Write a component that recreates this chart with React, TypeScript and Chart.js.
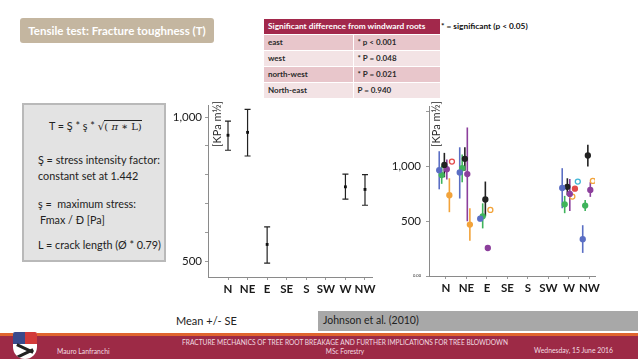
import React, { useEffect, useRef } from "react";
import { Chart, registerables } from "chart.js";
Chart.register(...registerables);

// ---------- data ----------
const categories = ["N", "NE", "E", "SE", "S", "SW", "W", "NW"];

// left chart: mean +/- SE
const leftMean = [937, 947, 558, null, null, null, 758, 749];
const leftLow = [885, 865, 493, null, null, null, 715, 694];
const leftHigh = [986, 1027, 619, null, null, null, 802, 800];
const leftYTicks = [500, 600, 700, 800, 900, 1000];

// right chart (Johnson et al. 2010)
const rightYTicks = [0, 500, 1000, 1500];
const blueMean = [967, 946, 524, null, null, null, 804, 336];
const blueLow = [792, 708, 506, null, null, null, 619, 211];
const blueHigh = [1140, 1176, 545, null, null, null, 985, 464];
const greenMean = [922, 985, 545, null, null, null, 655, 643];
const greenLow = [842, 857, 435, null, null, null, 574, 595];
const greenHigh = [1006, 1110, 664, null, null, null, 732, 694];
const blackMean = [1015, 1071, 699, null, null, null, 815, 1101];
const blackLow = [902, 961, 545, null, null, null, 738, 1000];
const blackHigh = [1125, 1176, 863, null, null, null, 893, 1199];
const purpleMean = [976, 931, 256, null, null, null, 750, 786];
const purpleLow = [881, 500, 244, null, null, null, 595, 723];
const purpleHigh = [1065, 1357, 268, null, null, null, 887, 857];
const orangeMean = [738, 470, 604, null, null, null, 726, 869];
const orangeLow = [583, 321, null, null, null, null, null, null];
const orangeHigh = [893, 619, null, null, null, null, null, null];
const orangeHollow = [false, false, true, false, false, false, true, true];
const redMean = [1045, null, null, null, null, null, 798, null];
const redLow = [null, null, null, null, null, null, 780, null];
const redHigh = [null, null, null, null, null, null, 816, null];
const redHollow = [true, false, false, false, false, false, false, false];
const cyanMean = [null, null, null, null, null, null, 863, null];
const cyanHollow = [false, false, false, false, false, false, true, false];

// text content
const sigRows = ["east", "west", "north-west", "North-east"];
const sigValues = ["* p < 0.001", "* P = 0.048", "* P = 0.021", "P = 0.940"];

// ---------- helpers ----------
const FONT = "Lato, 'Open Sans', sans-serif";

function buildSeries(mean: any[], low: any[] | null, high: any[] | null, offset: number, hollow: boolean[] | null, color: string) {
  const pts: any[] = [];
  const lo: any[] = [];
  const hi: any[] = [];
  const bg: string[] = [];
  mean.forEach((m, i) => {
    if (m == null) return;
    pts.push({ x: i + offset, y: m });
    lo.push(low ? low[i] : null);
    hi.push(high ? high[i] : null);
    bg.push(hollow && hollow[i] ? "#ffffff" : color);
  });
  return { pts, lo, hi, bg };
}

const errorBarPlugin = {
  id: "errbars",
  beforeDatasetsDraw(chart: any) {
    const { ctx } = chart;
    const x = chart.scales.x;
    const y = chart.scales.y;
    chart.data.datasets.forEach((ds: any) => {
      if (!ds.errLow) return;
      ctx.save();
      ctx.strokeStyle = ds.errColor;
      ctx.lineWidth = ds.errWidth;
      ds.data.forEach((pt: any, i: number) => {
        const lo = ds.errLow[i];
        const hi = ds.errHigh[i];
        if (lo == null || hi == null) return;
        const px = x.getPixelForValue(pt.x);
        const yl = y.getPixelForValue(lo);
        const yh = y.getPixelForValue(hi);
        ctx.beginPath();
        ctx.moveTo(px, yl);
        ctx.lineTo(px, yh);
        if (ds.capHalf) {
          ctx.moveTo(px - ds.capHalf, yl);
          ctx.lineTo(px + ds.capHalf, yl);
          ctx.moveTo(px - ds.capHalf, yh);
          ctx.lineTo(px + ds.capHalf, yh);
        }
        ctx.stroke();
      });
      ctx.restore();
    });
  },
};

function axisX(min: number, max: number, height: number, padding: number) {
  return {
    type: "linear",
    min,
    max,
    afterBuildTicks: (s: any) => {
      s.ticks = categories.map((_, i) => ({ value: i }));
    },
    afterFit: (s: any) => {
      s.height = height;
    },
    ticks: {
      callback: (v: any) => categories[v] ?? "",
      font: { family: FONT, size: 11.5, weight: "bold" },
      color: "#1a1a1a",
      padding,
      maxRotation: 0,
      autoSkip: false,
    },
    grid: { drawOnChartArea: false, drawTicks: true, tickLength: 3, color: "#9a9a9a" },
    border: { display: true, color: "#8a8a8a", width: 1 },
  };
}

function leftConfig(): any {
  const s = buildSeries(leftMean, leftLow, leftHigh, 0, null, "#111");
  return {
    type: "scatter",
    data: {
      datasets: [
        {
          data: s.pts,
          errLow: s.lo,
          errHigh: s.hi,
          errColor: "#222",
          errWidth: 1.2,
          capHalf: 3,
          pointStyle: "rect",
          pointRadius: 2,
          pointBackgroundColor: "#111",
          pointBorderColor: "#111",
          pointBorderWidth: 0,
        },
      ],
    },
    options: {
      responsive: false,
      animation: false,
      devicePixelRatio: 1,
      layout: { padding: { top: 10, right: 13, left: 0, bottom: 0 } },
      plugins: { legend: { display: false }, tooltip: { enabled: false } },
      scales: {
        x: axisX(-1.022, 7.358, 28, 2),
        y: {
          type: "linear",
          min: 445,
          max: 1042,
          afterBuildTicks: (sc: any) => {
            sc.ticks = leftYTicks.map((v) => ({ value: v }));
          },
          afterFit: (sc: any) => {
            sc.width = 48;
          },
          ticks: {
            callback: (v: any) => (v === 1000 ? "1,000" : v === 500 ? "500" : ""),
            font: { family: FONT, size: 11.5 },
            color: "#1a1a1a",
            padding: 3,
          },
          grid: { drawOnChartArea: false, drawTicks: true, tickLength: 3, color: "#9a9a9a" },
          border: { display: true, color: "#8a8a8a", width: 1 },
        },
      },
    },
    plugins: [errorBarPlugin],
  };
}

function rightConfig(): any {
  const defs = [
    { mean: blueMean, low: blueLow, high: blueHigh, off: -0.33, hollow: null, color: "#5a6ec4" },
    { mean: greenMean, low: greenLow, high: greenHigh, off: -0.21, hollow: null, color: "#3fb35c" },
    { mean: blackMean, low: blackLow, high: blackHigh, off: -0.08, hollow: null, color: "#222222" },
    { mean: purpleMean, low: purpleLow, high: purpleHigh, off: 0.04, hollow: null, color: "#8c3f9c" },
    { mean: orangeMean, low: orangeLow, high: orangeHigh, off: 0.165, hollow: orangeHollow, color: "#f2a33a" },
    { mean: redMean, low: redLow, high: redHigh, off: 0.29, hollow: redHollow, color: "#e24a4a" },
    { mean: cyanMean, low: null, high: null, off: 0.43, hollow: cyanHollow, color: "#40b6d6" },
  ];
  const datasets = defs.map((d) => {
    const s = buildSeries(d.mean, d.low, d.high, d.off, d.hollow as any, d.color);
    return {
      data: s.pts,
      errLow: s.lo,
      errHigh: s.hi,
      errColor: d.color,
      errWidth: 1.6,
      capHalf: 0,
      pointStyle: "circle",
      pointRadius: 2.5,
      pointBackgroundColor: s.bg,
      pointBorderColor: d.color,
      pointBorderWidth: 1.3,
    };
  });
  return {
    type: "scatter",
    data: { datasets },
    options: {
      responsive: false,
      animation: false,
      devicePixelRatio: 1,
      layout: { padding: { top: 8, right: 20, left: 0, bottom: 0 } },
      plugins: { legend: { display: false }, tooltip: { enabled: false } },
      scales: {
        x: axisX(-0.829, 7.269, 29, 2),
        y: {
          type: "linear",
          min: 0,
          max: 1545,
          afterBuildTicks: (sc: any) => {
            sc.ticks = rightYTicks.map((v) => ({ value: v }));
          },
          afterFit: (sc: any) => {
            sc.width = 39;
          },
          ticks: {
            callback: (v: any) => (v === 1000 ? "1,000" : v === 500 ? "500" : v === 0 ? "0.00" : ""),
            font: (c: any) => ({ family: FONT, size: c.tick && c.tick.value === 0 ? 4 : 11.5 }),
            color: "#1a1a1a",
            padding: 5,
          },
          grid: { drawOnChartArea: false, drawTicks: true, tickLength: 3, color: "#9a9a9a" },
          border: { display: true, color: "#8a8a8a", width: 1 },
        },
      },
    },
    plugins: [errorBarPlugin],
  };
}

function ChartCanvas({ left, top, width, height, make }: any) {
  const ref = useRef<HTMLCanvasElement | null>(null);
  useEffect(() => {
    if (!ref.current) return;
    const chart = new Chart(ref.current, make());
    return () => chart.destroy();
  }, []);
  return (
    <canvas
      ref={ref}
      width={width}
      height={height}
      style={{ position: "absolute", left, top, width, height }}
    />
  );
}

function T({ x, y, size, children, style }: any) {
  return (
    <div
      style={{
        position: "absolute",
        left: x,
        top: y - size * 0.65,
        fontSize: size,
        lineHeight: `${size * 1.3}px`,
        whiteSpace: "nowrap",
        ...style,
      }}
    >
      {children}
    </div>
  );
}

function RotLabel({ cx, cy }: any) {
  return (
    <div
      style={{
        position: "absolute",
        left: cx - 30,
        top: cy - 7,
        width: 60,
        height: 14,
        lineHeight: "14px",
        fontSize: 11,
        color: "#333",
        textAlign: "center",
        transform: "rotate(-90deg)",
        whiteSpace: "nowrap",
      }}
    >
      [KPa m½]
    </div>
  );
}

export default function App() {
  const rowBg = ["#e8c6cb", "#f3e3e5", "#e8c6cb", "#f3e3e5"];
  return (
    <div
      style={{
        position: "fixed",
        left: 0,
        top: 0,
        width: 638,
        height: 359,
        background: "#ffffff",
        overflow: "hidden",
        fontFamily: FONT,
        color: "#222",
      }}
    >
      {/* title box */}
      <div
        style={{
          position: "absolute",
          left: 20,
          top: 18,
          width: 194,
          height: 25,
          background: "#c4b6a0",
          borderRadius: 3,
          color: "#fff",
          fontWeight: 700,
          fontSize: 11.5,
          lineHeight: "25px",
          textAlign: "center",
        }}
      >
        Tensile test: Fracture toughness (T)
      </div>

      {/* significance table */}
      <div style={{ position: "absolute", left: 264, top: 19, width: 176 }}>
        <div
          style={{
            height: 15,
            background: "#a2284b",
            color: "#fff",
            fontWeight: 700,
            fontSize: 8.3,
            lineHeight: "15px",
            paddingLeft: 4,
            whiteSpace: "nowrap",
          }}
        >
          Significant difference from windward roots
        </div>
        {sigRows.map((r, i) => (
          <div key={r} style={{ display: "flex", height: 15, marginTop: 1 }}>
            <div
              style={{
                width: 87,
                background: rowBg[i],
                fontSize: 8,
                fontWeight: 700,
                lineHeight: "15px",
                paddingLeft: 4,
                color: "#2a2a2a",
              }}
            >
              {r}
            </div>
            <div
              style={{
                width: 84,
                marginLeft: 1,
                background: rowBg[i],
                fontSize: 8,
                fontWeight: 700,
                lineHeight: "15px",
                paddingLeft: 3,
                color: "#2a2a2a",
              }}
            >
              {sigValues[i]}
            </div>
          </div>
        ))}
      </div>
      <T x={441} y={26} size={8.3} style={{ fontWeight: 700, color: "#111" }}>
        * = significant (p &lt; 0.05)
      </T>

      {/* formula box */}
      <div
        style={{
          position: "absolute",
          left: 22,
          top: 103,
          width: 140,
          height: 155,
          background: "#e3e3e3",
          border: "2px solid #b9b9b9",
        }}
      />
      <T x={49} y={126} size={10.8} style={{ color: "#222" }}>
        T = Ş * ş *{" "}
        <span style={{ fontFamily: "'DejaVu Serif', serif", fontSize: 10.5 }}>√</span>
        <span
          style={{
            borderTop: "1px solid #222",
            fontFamily: "'DejaVu Serif', serif",
            fontSize: 10,
          }}
        >
          ( <i>π</i> ∗ L)
        </span>
      </T>
      <T x={38} y={160} size={10.8}>Ş = stress intensity factor:</T>
      <T x={38} y={176} size={10.8}>constant set at 1.442</T>
      <T x={38} y={204} size={10.8}>ş =&nbsp; maximum stress:</T>
      <T x={40} y={220} size={10.8}>Fmax / Đ [Pa]</T>
      <T x={38} y={245} size={10.8}>L = crack length (Ø * 0.79)</T>

      {/* charts */}
      <ChartCanvas left={160} top={95} width={225} height={210} make={leftConfig} />
      <ChartCanvas left={390} top={95} width={225} height={210} make={rightConfig} />
      <RotLabel cx={217} cy={124} />
      <RotLabel cx={436} cy={124} />

      {/* bottom notes */}
      <T x={176} y={321} size={11} style={{ color: "#222" }}>Mean +/- SE</T>
      <div
        style={{
          position: "absolute",
          left: 318,
          top: 311,
          width: 320,
          height: 20,
          background: "#a8a8a8",
        }}
      />
      <T x={323} y={321} size={10.5} style={{ color: "#222" }}>
        Johnson et al. (2010)
      </T>

      {/* footer */}
      <div style={{ position: "absolute", left: 0, top: 333, width: 638, height: 3, background: "#e0652f" }} />
      <div style={{ position: "absolute", left: 0, top: 336, width: 638, height: 23, background: "#9d2a46" }} />
      {/* crest */}
      <div
        style={{
          position: "absolute",
          left: 13,
          top: 332,
          width: 24,
          height: 27,
          background: "#ffffff",
          borderRadius: "2px 2px 12px 12px",
          overflow: "hidden",
        }}
      >
        <div style={{ position: "absolute", left: 0, top: 0, width: 12, height: 12, background: "#3a4a8c" }} />
        <div style={{ position: "absolute", left: 12, top: 0, width: 12, height: 12, background: "#d23a3a" }} />
        <div style={{ position: "absolute", left: 3, top: 15, width: 18, height: 3, background: "#222", transform: "rotate(25deg)" }} />
        <div style={{ position: "absolute", left: 3, top: 20, width: 18, height: 3, background: "#222", transform: "rotate(-25deg)" }} />
      </div>
      <T x={57} y={351} size={6.8} style={{ color: "#f2dbe1" }}>Mauro Lanfranchi</T>
      <div
        style={{
          position: "absolute",
          left: 150,
          top: 338,
          width: 390,
          textAlign: "center",
          fontSize: 6.6,
          lineHeight: "8.5px",
          color: "#f2dbe1",
          whiteSpace: "nowrap",
        }}
      >
        FRACTURE MECHANICS OF TREE ROOT BREAKAGE AND FURTHER IMPLICATIONS FOR TREE BLOWDOWN
        <br />
        MSc Forestry
      </div>
      <div
        style={{
          position: "absolute",
          left: 480,
          top: 346,
          width: 133,
          textAlign: "right",
          fontSize: 6.8,
          lineHeight: "9px",
          color: "#f2dbe1",
          whiteSpace: "nowrap",
        }}
      >
        Wednesday, 15 June 2016
      </div>
    </div>
  );
}
